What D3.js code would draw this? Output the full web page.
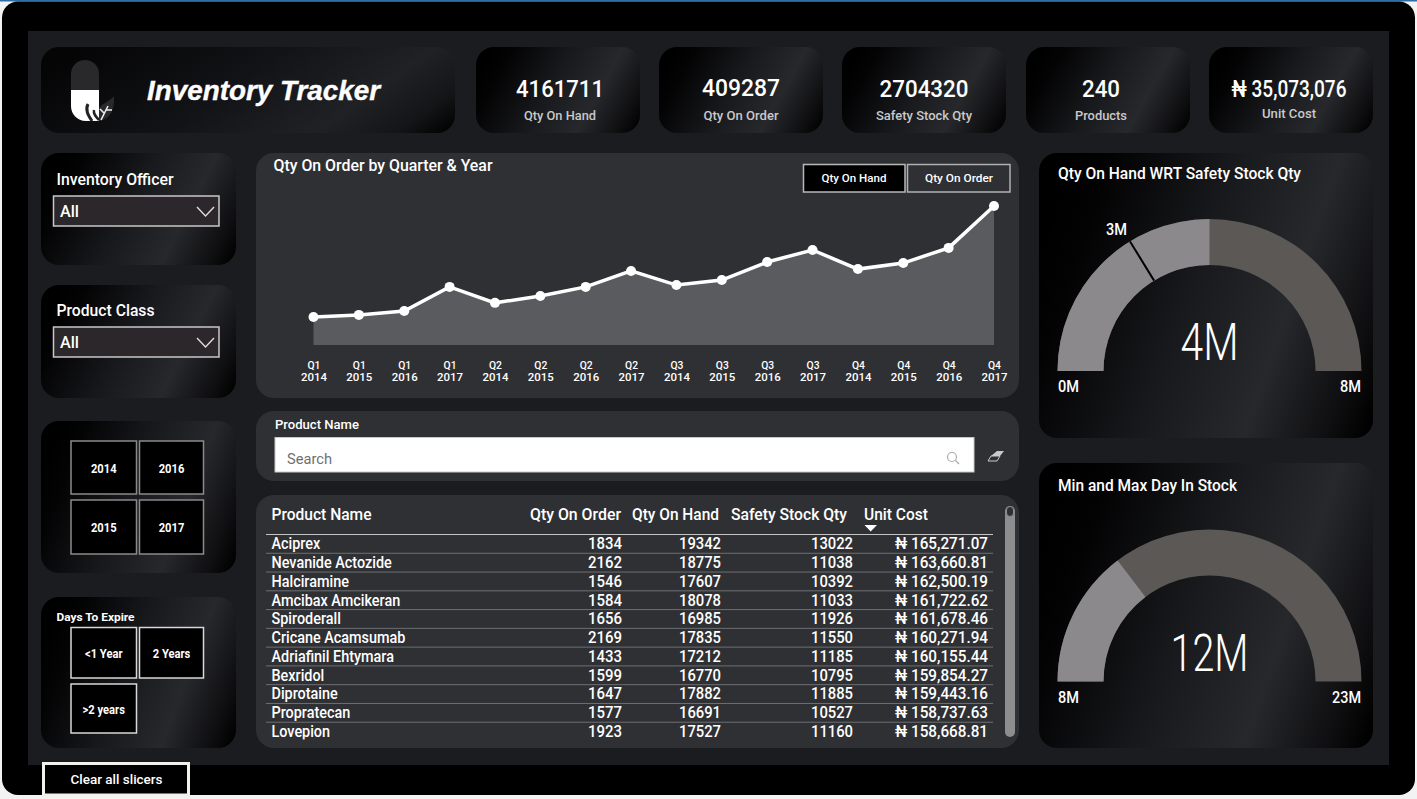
<!DOCTYPE html>
<html>
<head>
<meta charset="utf-8">
<title>Inventory Tracker</title>
<script src="https://cdn.jsdelivr.net/npm/d3@7"></script>
<style>
    html, body { margin: 0; padding: 0; background: #f3f3f3; overflow: hidden; }
    svg { display: block; }
    text { font-family: Roboto, "Noto Sans", sans-serif; fill: #fff; font-weight: 500; }
</style>
</head>
<body>
<div id="chart"></div>
<script>
// KPI row
const kpiLabels = ["Qty On Hand", "Qty On Order", "Safety Stock Qty", "Products", "Unit Cost"];
const kpiValues = ["4161711", "409287", "2704320", "240", "₦ 35,073,076"];

// Line chart
const quarters = ["Q1", "Q1", "Q1", "Q1", "Q2", "Q2", "Q2", "Q2", "Q3", "Q3", "Q3", "Q3", "Q4", "Q4", "Q4", "Q4"];
const quarterYears = [2014, 2015, 2016, 2017, 2014, 2015, 2016, 2017, 2014, 2015, 2016, 2017, 2014, 2015, 2016, 2017];
const qtyByQuarter = [10700, 11500, 13000, 22200, 16100, 18700, 22200, 28300, 22900, 24800, 31700, 36300, 29000, 31300, 37100, 53100];

// Table
const products = ["Aciprex", "Nevanide Actozide", "Halciramine", "Amcibax Amcikeran", "Spiroderall", "Cricane Acamsumab", "Adriafinil Ehtymara", "Bexridol", "Diprotaine", "Propratecan", "Lovepion"];
const qtyOnOrder = [1834, 2162, 1546, 1584, 1656, 2169, 1433, 1599, 1647, 1577, 1923];
const qtyOnHand = [19342, 18775, 17607, 18078, 16985, 17835, 17212, 16770, 17882, 16691, 17527];
const safetyStock = [13022, 11038, 10392, 11033, 11926, 11550, 11185, 10795, 11885, 10527, 11160];
const unitCost = [165271.07, 163660.81, 162500.19, 161722.62, 161678.46, 160271.94, 160155.44, 159854.27, 159443.16, 158737.63, 158668.81];

// Gauges
const stockGauge = [0, 4161711, 8323422];
const stockTarget = 2704320;
const dayGauge = [8000000, 12400000, 23000000];

// Slicers
const yearSlicer = ["2014", "2016", "2015", "2017"];
const expirySlicer = ["<1 Year", "2 Years", ">2 years"];

const WIDTH = 1417;
const HEIGHT = 799;
const SQUEEZE = 0.93;   // The original font is narrower than Roboto

const svg = d3.select("#chart").append("svg").attr("width", WIDTH).attr("height", HEIGHT);
const defs = svg.append("defs");

function addGradient(id, stops)
{
    const gradient = defs.append("linearGradient")
        .attr("id", id)
        .attr("x1", 0).attr("y1", 0.35).attr("x2", 1.12).attr("y2", 0.68);

    stops.forEach(([offset, color]) => gradient.append("stop").attr("offset", offset).attr("stop-color", color));
}

addGradient("glossy", [[0, "#000"], [0.1, "#030304"], [0.4, "#18191c"], [0.66, "#27282c"], [0.86, "#0f0f11"], [0.96, "#000"]]);
addGradient("glossy-dark", [[0, "#050506"], [0.4, "#121316"], [0.7, "#202125"], [0.86, "#141517"], [0.97, "#000"]]);

function addText(parent, x, y, str, opts = {})
{
    const node = parent.append("text")
        .attr("x", x)
        .attr("y", y)
        .attr("text-anchor", opts.anchor || "start")
        .attr("font-size", opts.size || 14)
        .text(str);

    if (opts.color)  node.style("fill", opts.color);
    if (opts.weight) node.style("font-weight", opts.weight);
    if (opts.style)  node.style("font-style", opts.style);
    if (opts.family) node.style("font-family", opts.family);

    const width = opts.width || node.node().getComputedTextLength() * (opts.squeeze || SQUEEZE);

    node.attr("textLength", width).attr("lengthAdjust", "spacingAndGlyphs");

    return node;
}

function addCard(x0, y0, x1, y1, fill = "url(#glossy)", radius = 18)
{
    return svg.append("rect")
        .attr("x", x0).attr("y", y0)
        .attr("width", x1 - x0).attr("height", y1 - y0)
        .attr("rx", radius)
        .attr("fill", fill);
}

function addBox(x0, y0, x1, y1, fill, stroke, strokeWidth = 1.5)
{
    return svg.append("rect")
        .attr("x", x0).attr("y", y0)
        .attr("width", x1 - x0).attr("height", y1 - y0)
        .attr("fill", fill)
        .attr("stroke", stroke)
        .attr("stroke-width", strokeWidth);
}

// Page frame
svg.append("rect").attr("width", WIDTH).attr("height", 1.5).attr("fill", "#2f6ea5");
svg.append("rect").attr("x", 2).attr("y", 1.5).attr("width", WIDTH - 4).attr("height", 793.5).attr("rx", 16).attr("fill", "#000");
svg.append("rect").attr("x", 28).attr("y", 31).attr("width", 1361).attr("height", 734).attr("fill", "#1b1c20");

// Header card
addCard(41, 47, 455, 133, "url(#glossy-dark)");
svg.append("path").attr("d", "M71 91V74a14 14 0 0 1 28 0V91Z").attr("fill", "#29292b");
svg.append("path").attr("d", "M99 108C103 103 109 102 114 96C115 108 111 120 98 121Z").attr("fill", "#29292b");
svg.append("path").attr("d", "M71 90H99V121H86C77 121 71 114 71 106Z").attr("fill", "#fff");
svg.append("path").attr("d", "M88 104C85 110 88 115 92 121").attr("fill", "none").attr("stroke", "#222").attr("stroke-width", 3);
svg.append("path").attr("d", "M94 110C93 114 96 117 99 120").attr("fill", "none").attr("stroke", "#222").attr("stroke-width", 2.5);
svg.append("path").attr("d", "M101 120L105 112L108 106M104 113L100 109M106 110L112 110").attr("fill", "none").attr("stroke", "#eee").attr("stroke-width", 1.6);
addText(svg, 147, 100, "Inventory Tracker", { size: 28, width: 233, weight: 700, style: "italic", family: "'Liberation Sans', Arial, sans-serif" })
    .style("stroke", "#fff")
    .style("stroke-width", 0.4);

// KPI cards
const kpiCenters = [560, 741, 924, 1101, 1289];
const kpiBounds = [[476, 640], [659, 823], [842, 1006], [1026, 1190], [1209, 1373]];
const kpiWidths = [88, 78, 89, 38, 115];
const kpiLabelWidths = [72, 75, 96, 52, 54];

kpiLabels.forEach((label, i) => {
    addCard(kpiBounds[i][0], 47, kpiBounds[i][1], 133);
    addText(svg, kpiCenters[i], i === 1 ? 96 : 97, kpiValues[i], { size: 23, anchor: "middle", width: kpiWidths[i] });
    addText(svg, kpiCenters[i], i === 4 ? 118 : 120, label, { size: 13, anchor: "middle", color: "#c9c9cb", width: kpiLabelWidths[i] });
});

// Left slicer cards
[[153, 265], [285, 398], [421, 573], [597, 748]].forEach(([y0, y1]) => addCard(41, y0, 236, y1));

function addDropdown(title, y, titleWidth)
{
    addText(svg, 56.5, y - 11, title, { size: 16, width: titleWidth });
    addBox(53.5, y, 219, y + 30, "#2c272b", "#c8c8c8");
    addText(svg, 60, y + 21, "All", { size: 16, width: 19 });
    svg.append("path")
        .attr("d", `M197 ${y + 11}L205.5 ${y + 20}L214 ${y + 11}`)
        .attr("fill", "none").attr("stroke", "#ddd").attr("stroke-width", 1.4);
}

addDropdown("Inventory Officer", 196, 117);
addDropdown("Product Class", 327, 98);

function addSlicerButtons(labels, cells, stroke)
{
    labels.forEach((label, i) => {
        const [x0, y0, x1, y1] = cells[i];

        addBox(x0, y0, x1, y1, "#000", stroke);
        addText(svg, (x0 + x1) / 2, (y0 + y1) / 2 + 5, label, { size: 12, anchor: "middle", weight: 700 });
    });
}

addSlicerButtons(yearSlicer, [[71, 441, 136.5, 494], [139.5, 441, 203.5, 494], [71, 500, 136.5, 554], [139.5, 500, 203.5, 554]], "#8a8a8a");
addText(svg, 56.5, 621, "Days To Expire", { size: 11, width: 78, weight: 700 });
addSlicerButtons(expirySlicer, [[71, 627.5, 136.5, 678], [139.5, 627.5, 203.5, 678], [71, 684, 136.5, 733]], "#d8d8d8");

// Clear button
addBox(43.5, 763.5, 188.5, 795, "#000", "#f3f1ec", 3);
addText(svg, 116.5, 784, "Clear all slicers", { size: 13, anchor: "middle", width: 92 });

// Line chart panel
addCard(256, 153, 1019, 398, "#2f3034");
addText(svg, 273.5, 171, "Qty On Order by Quarter & Year", { size: 16, width: 219 });
addBox(803.5, 164.5, 905, 192, "#000", "#b8b8b8");
addText(svg, 854, 182, "Qty On Hand", { size: 11.5, anchor: "middle", width: 65 });
addBox(907.5, 164.5, 1010, 192, "#2f3034", "#b0b0b0");
addText(svg, 959, 182, "Qty On Order", { size: 11.5, anchor: "middle", width: 68 });

const xScale = d3.scalePoint().domain(d3.range(qtyByQuarter.length)).range([313.5, 994]);
const yScale = d3.scaleLinear().domain([0, d3.max(qtyByQuarter)]).range([345, 206]);

svg.append("path")
    .datum(qtyByQuarter)
    .attr("fill", "#5a5b5f")
    .attr("d", d3.area().x((d, i) => xScale(i)).y0(yScale(0)).y1((d) => yScale(d)));

svg.append("path")
    .datum(qtyByQuarter)
    .attr("fill", "none")
    .attr("stroke", "#fff")
    .attr("stroke-width", 3.5)
    .attr("d", d3.line().x((d, i) => xScale(i)).y((d) => yScale(d)));

svg.selectAll("circle.point")
    .data(qtyByQuarter)
    .join("circle")
    .attr("class", "point")
    .attr("cx", (d, i) => xScale(i))
    .attr("cy", (d) => yScale(d))
    .attr("r", 5)
    .attr("fill", "#fff");

const xAxis = svg.append("g")
    .attr("transform", `translate(0,${yScale(0)})`)
    .call(d3.axisBottom(xScale).tickSize(0).tickFormat(""));

xAxis.select(".domain").remove();
xAxis.selectAll(".tick").each(function (d) {
    const tick = d3.select(this);

    tick.select("text").remove();
    addText(tick, 0, 23.5, quarters[d], { size: 11, anchor: "middle", width: 13 });
    addText(tick, 0, 36, quarterYears[d], { size: 11, anchor: "middle", width: 26 });
});

// Search panel
addCard(256, 411, 1019, 481, "#2f3034");
addText(svg, 275, 429, "Product Name", { size: 12.5, width: 84 });
addBox(275, 437.5, 974, 472, "#fff", "#c9c9c9", 1);
addText(svg, 287, 464, "Search", { size: 15, color: "#6f6f6f", weight: 400, width: 45 });
svg.append("circle").attr("cx", 952).attr("cy", 457).attr("r", 4.5).attr("fill", "none").attr("stroke", "#aaa").attr("stroke-width", 1.2);
svg.append("line").attr("x1", 955.5).attr("y1", 460.5).attr("x2", 959).attr("y2", 464).attr("stroke", "#aaa").attr("stroke-width", 1.2);
svg.append("path").attr("d", "M991 456L997 451H1004L1000 456Z").attr("fill", "#c9c9c9");
svg.append("path").attr("d", "M991 456H1000L997 461H988Z").attr("fill", "none").attr("stroke", "#c9c9c9").attr("stroke-width", 1);

// Table panel
addCard(256, 495, 1019, 748, "#2f3034");

const headerLabels = [
    ["Product Name", 271.5, "start", 100],
    ["Qty On Order", 621, "end", 91],
    ["Qty On Hand", 719, "end", 87],
    ["Safety Stock Qty", 847, "end", 116],
    ["Unit Cost", 864, "start", 64]
];

headerLabels.forEach(([label, x, anchor, width]) => {
    addText(svg, x, 520, label, { size: 16, anchor, width });
});

svg.append("path").attr("d", "M864.5 525H877L870.7 531.5Z").attr("fill", "#fff");
svg.append("line").attr("x1", 266).attr("x2", 993).attr("y1", 534.5).attr("y2", 534.5).attr("stroke", "#c4c4c4").attr("stroke-width", 1.2);

const rowScale = d3.scaleBand().domain(d3.range(products.length)).range([534.5, 741]);

defs.append("clipPath").attr("id", "table-clip")
    .append("rect").attr("x", 256).attr("y", 535).attr("width", 763).attr("height", 204.5);

const tableRows = svg.append("g").attr("clip-path", "url(#table-clip)");
const formatCost = (d) => "₦ " + d3.format(",.2f")(d);

products.forEach((name, i) => {
    const baseline = rowScale(i) + 14.8;

    if (i > 0) {
        tableRows.append("line")
            .attr("x1", 266).attr("x2", 993)
            .attr("y1", rowScale(i)).attr("y2", rowScale(i))
            .attr("stroke", "#6e6f73").attr("stroke-width", 1);
    }

    addText(tableRows, 271.5, baseline, name, { size: 16, squeeze: 0.9 });
    addText(tableRows, 622, baseline, qtyOnOrder[i], { size: 16, anchor: "end", width: 34 });
    addText(tableRows, 721, baseline, qtyOnHand[i], { size: 16, anchor: "end", width: 42 });
    addText(tableRows, 853, baseline, safetyStock[i], { size: 16, anchor: "end", width: 42 });
    addText(tableRows, 988, baseline, formatCost(unitCost[i]), { size: 16, anchor: "end", width: 93 });
});

// Scrollbar
svg.append("rect").attr("x", 1005).attr("y", 506).attr("width", 10).attr("height", 231).attr("rx", 5).attr("fill", "#8d8d8f");
svg.append("rect").attr("x", 1006.5).attr("y", 506.5).attr("width", 7).attr("height", 10).attr("rx", 3.5).attr("fill", "#2f3034").attr("stroke", "#8d8d8f");

// Gauges
function addGauge(cardY0, cardY1, title, titleWidth, titleY, cy, [min, value, max], labelY, target)
{
    const formatM = (d) => d3.format(".0f")(d / 1e6) + "M";
    const cx = 1209.5;
    const angle = d3.scaleLinear().domain([min, max]).range([-Math.PI / 2, Math.PI / 2]);
    const arc = d3.arc().innerRadius(106).outerRadius(152);

    addCard(1039, cardY0, 1373, cardY1);
    addText(svg, 1058, titleY, title, { size: 16, width: titleWidth });

    const gauge = svg.append("g").attr("transform", `translate(${cx},${cy})`);

    gauge.append("path").attr("fill", "#5b5855").attr("d", arc({ startAngle: angle(min), endAngle: angle(max) }));
    gauge.append("path").attr("fill", "#8b898c").attr("d", arc({ startAngle: angle(min), endAngle: angle(value) }));

    if (target !== undefined) {
        const a = angle(target) - Math.PI / 2;

        gauge.append("line")
            .attr("x1", Math.cos(a) * 106).attr("y1", Math.sin(a) * 106)
            .attr("x2", Math.cos(a) * 152).attr("y2", Math.sin(a) * 152)
            .attr("stroke", "#000").attr("stroke-width", 2);

        addText(gauge, Math.cos(a) * 178, Math.sin(a) * 165 + 5, formatM(target), { size: 16, anchor: "middle", width: 21 });
    }

    addText(svg, cx, cy - 11, formatM(value), { size: 52, anchor: "middle", weight: 300, width: value > 1e7 ? 78 : 58 });
    addText(svg, 1058, labelY, formatM(min), { size: 16, width: 21 });
    addText(svg, 1361, labelY, formatM(max), { size: 16, anchor: "end", width: max > 1e7 ? 29 : 21 });
}

addGauge(153, 438, "Qty On Hand WRT Safety Stock Qty", 243, 179, 371, stockGauge, 392, stockTarget);
addGauge(463, 748, "Min and Max Day In Stock", 179, 491, 681.5, dayGauge, 703);
</script>
</body>
</html>
